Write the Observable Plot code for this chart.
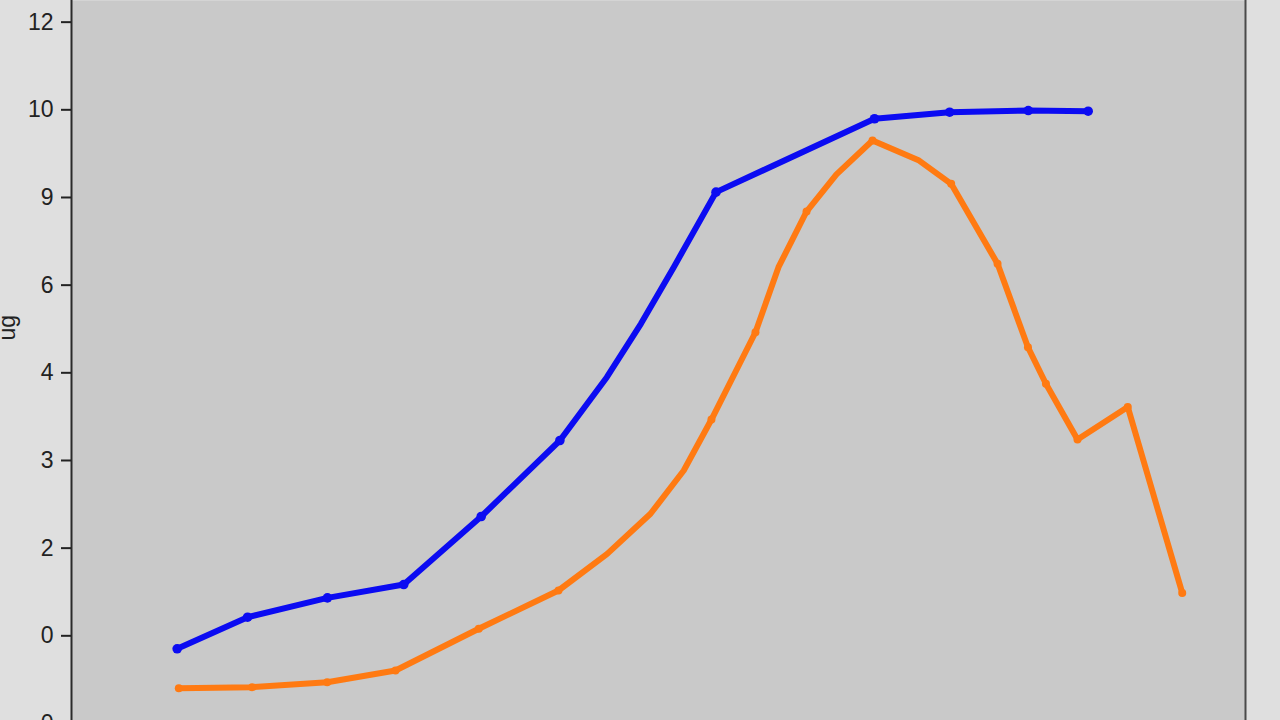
<!DOCTYPE html>
<html><head><meta charset="utf-8">
<script src="https://cdn.jsdelivr.net/npm/d3@7"></script>
<script src="https://cdn.jsdelivr.net/npm/@observablehq/plot@0.6"></script>
<style>
html,body{margin:0;padding:0;background:#dfdfdf;}
#chart{width:1280px;height:720px;overflow:hidden;}
#chart svg{overflow:visible;}
</style></head><body><div id="chart"></div>
<script>
// Tick labels as printed on the y axis, bottom to top (values below are in tick-position units)
const yTickLabels = ["0", "0", "2", "3", "4", "6", "9", "10", "12"];
const yLabel = "ug";

// Blue series (marked: point drawn with a dot marker in the reference)
const blueX = [9.0, 15.0, 21.8, 28.3, 34.9, 41.6, 45.6, 48.5, 51.3, 54.9, 68.4, 74.8, 81.5, 86.6];
const blueY = [0.852, 1.212, 1.433, 1.585, 2.361, 3.228, 3.95, 4.559, 5.205, 6.061, 6.898, 6.973, 6.992, 6.984];
const blueMarked = [1, 1, 1, 1, 1, 1, 0, 0, 0, 1, 1, 1, 1, 1];

// Orange series
const orangeX = [9.14, 15.39, 21.78, 27.6, 34.69, 41.48, 45.63, 49.32, 52.15, 54.51, 58.26, 60.22, 62.61, 65.16, 68.23, 72.2, 74.93, 78.88, 81.47, 83.0, 85.69, 89.97, 94.61];
const orangeY = [0.402, 0.414, 0.471, 0.604, 1.08, 1.517, 1.935, 2.392, 2.886, 3.467, 4.463, 5.205, 5.84, 6.263, 6.65, 6.421, 6.156, 5.244, 4.292, 3.875, 3.239, 3.611, 1.489];
const orangeMarked = [1, 1, 1, 1, 1, 1, 0, 0, 0, 1, 1, 0, 1, 0, 1, 0, 1, 1, 1, 1, 1, 1, 1];

const blue = blueX.map((x, i) => ({x, y: blueY[i], m: blueMarked[i]}));
const orange = orangeX.map((x, i) => ({x, y: orangeY[i], m: orangeMarked[i]}));

const plot = Plot.plot({
  width: 1280, height: 720,
  marginLeft: 71, marginRight: 35, marginTop: 0, marginBottom: 0,
  style: {background: "transparent", fontFamily: "'Liberation Sans', Arial, sans-serif", overflow: "visible"},
  x: {domain: [0, 100], axis: null},
  y: {domain: [0.034, 8.247], axis: null},
  marks: [
    Plot.frame({fill: "#c9c9c9", stroke: null}),
    Plot.ruleX([0], {stroke: "#2a2a2a", strokeWidth: 2}),
    Plot.ruleX([100], {stroke: "#4a4a4a", strokeWidth: 2}),
    Plot.axisY(d3.range(yTickLabels.length), {
      tickFormat: i => yTickLabels[i], tickSize: 10, tickPadding: 8,
      fontSize: 23, color: "#222", strokeWidth: 2, label: null
    }),
    Plot.lineY(orange, {x: "x", y: "y", stroke: "#ff7a12", strokeWidth: 6, strokeLinejoin: "round"}),
    Plot.dot(orange, {filter: d => d.m, x: "x", y: "y", r: 4, fill: "#ff7a12"}),
    Plot.lineY(blue, {x: "x", y: "y", stroke: "#0b0bf2", strokeWidth: 6, strokeLinejoin: "round"}),
    Plot.dot(blue, {filter: d => d.m, x: "x", y: "y", r: 4.8, fill: "#0b0bf2"}),
    Plot.text([yLabel], {frameAnchor: "left", dx: -64, dy: -20, rotate: -90, fontSize: 23, fill: "#222"})
  ]
});
document.getElementById("chart").appendChild(plot);
</script>
</body></html>
